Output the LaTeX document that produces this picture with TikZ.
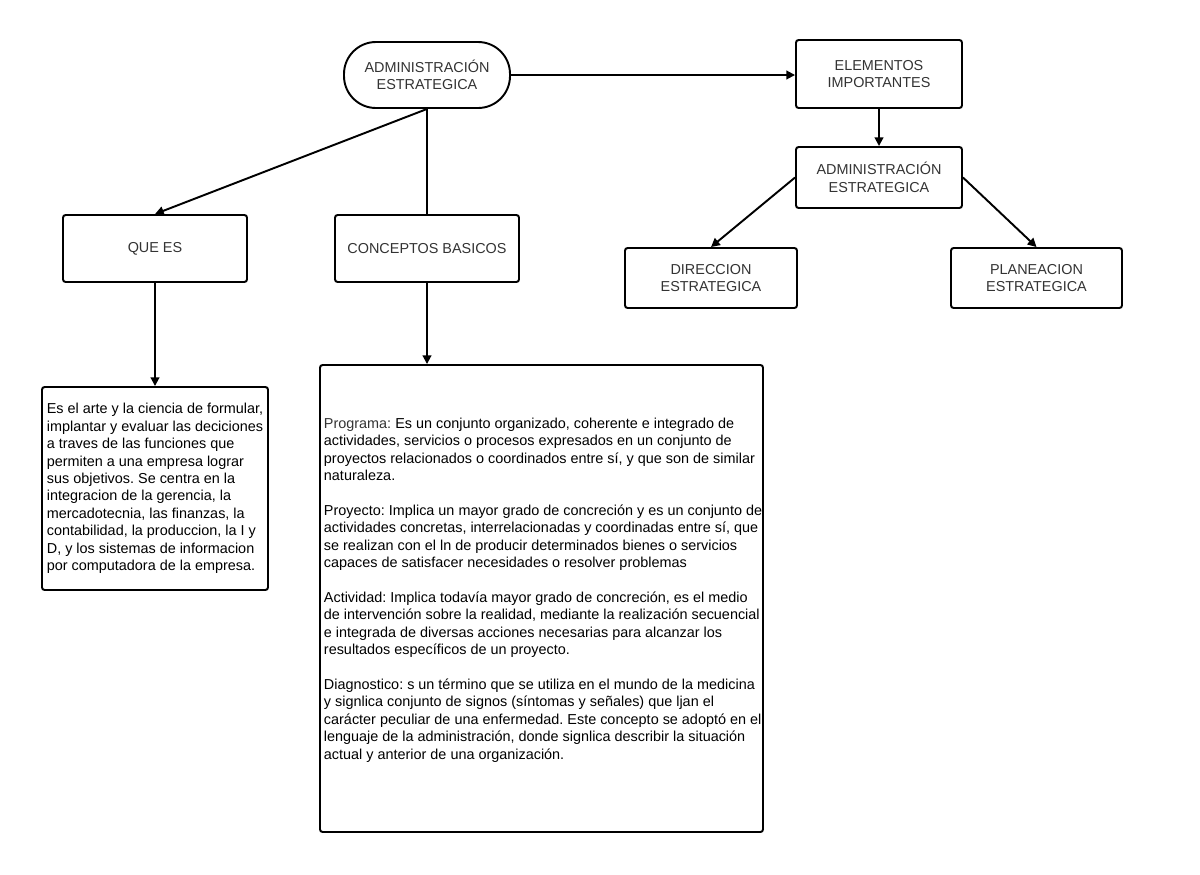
\documentclass[tikz,border=0pt]{standalone}
\usepackage{fontspec}
\setmainfont{Liberation Sans}
\usetikzlibrary{arrows.meta}
\definecolor{titlegray}{HTML}{333333}
\frenchspacing
\begin{document}
\begin{tikzpicture}[x=0.2cm, y=-0.2cm, line width=1.1pt,
    box/.style={draw, rounded corners=1.5pt, inner sep=0pt, align=center, text=titlegray,
        font=\fontsize{8.2}{9.9}\selectfont},
    oval/.style={box, rounded corners=0.64cm},
    txt/.style={align=left, inner sep=0pt, font=\fontsize{8.2}{9.9}\selectfont},
    arr/.style={-{Triangle[length=5pt, width=5pt]}}]
    \useasboundingbox (0,0) rectangle (120,87.4);
    \node[oval, minimum width=3.32cm, minimum height=1.32cm] (adm) at (42.7,7.5) {ADMINISTRACIÓN\\ESTRATEGICA};
    \node[box, minimum width=3.32cm, minimum height=1.36cm] (elem) at (87.9,7.4) {ELEMENTOS\\IMPORTANTES};
    \node[box, minimum width=3.32cm, minimum height=1.22cm] (adm2) at (87.9,17.75) {ADMINISTRACIÓN\\ESTRATEGICA};
    \node[box, minimum width=3.44cm, minimum height=1.2cm] (dir) at (71.1,27.8) {DIRECCION\\ESTRATEGICA};
    \node[box, minimum width=3.42cm, minimum height=1.2cm] (plan) at (103.65,27.8) {PLANEACION\\ESTRATEGICA};
    \node[box, minimum width=3.68cm, minimum height=1.34cm] (que) at (15.5,24.85) {QUE ES};
    \node[box, minimum width=3.68cm, minimum height=1.34cm] (conc) at (42.7,24.85) {CONCEPTOS BASICOS};
    \node[box, txt, text=black, minimum width=4.52cm, minimum height=4.06cm] (def) at (15.5,48.85)
        {Es el arte y la ciencia de formular,\\
         implantar y evaluar las deciciones\\
         a traves de las funciones que\\
         permiten a una empresa lograr\\
         sus objetivos. Se centra en la\\
         integracion de la gerencia, la\\
         mercadotecnia, las finanzas, la\\
         contabilidad, la produccion, la I y\\
         D, y los sistemas de informacion\\
         por computadora de la empresa.};
    \node[box, minimum width=8.86cm, minimum height=9.34cm] (big) at (54.15,59.85) {};
    \node[txt, anchor=west] (conctext) at (32.3,59.0)
        {\textcolor{titlegray}{Programa:} Es un conjunto organizado, coherente e integrado de\\
         actividades, servicios o procesos expresados en un conjunto de\\
         proyectos relacionados o coordinados entre sí, y que son de similar\\
         naturaleza.\\[9.9pt]
         Proyecto: Implica un mayor grado de concreción y es un conjunto de\\
         actividades concretas, interrelacionadas y coordinadas entre sí, que\\
         se realizan con el ln de producir determinados bienes o servicios\\
         capaces de satisfacer necesidades o resolver problemas\\[9.9pt]
         Actividad: Implica todavía mayor grado de concreción, es el medio\\
         de intervención sobre la realidad, mediante la realización secuencial\\
         e integrada de diversas acciones necesarias para alcanzar los\\
         resultados específicos de un proyecto.\\[9.9pt]
         Diagnostico: s un término que se utiliza en el mundo de la medicina\\
         y signlica conjunto de signos (síntomas y señales) que ljan el\\
         carácter peculiar de una enfermedad. Este concepto se adoptó en el\\
         lenguaje de la administración, donde signlica describir la situación\\
         actual y anterior de una organización.};
    \draw[arr] (adm.east) -- (adm.east -| elem.west);
    \draw[arr] (adm.south) -- (que.north);
    \draw (adm.south) -- (conc.north);
    \foreach \a/\b in {que/def, conc/big, elem/adm2}
        \draw[arr] (\a.south) -- (\a.south |- \b.north);
    \draw[arr] (adm2.west) -- (dir.north);
    \draw[arr] (adm2.east) -- (plan.north);
\end{tikzpicture}
\end{document}
